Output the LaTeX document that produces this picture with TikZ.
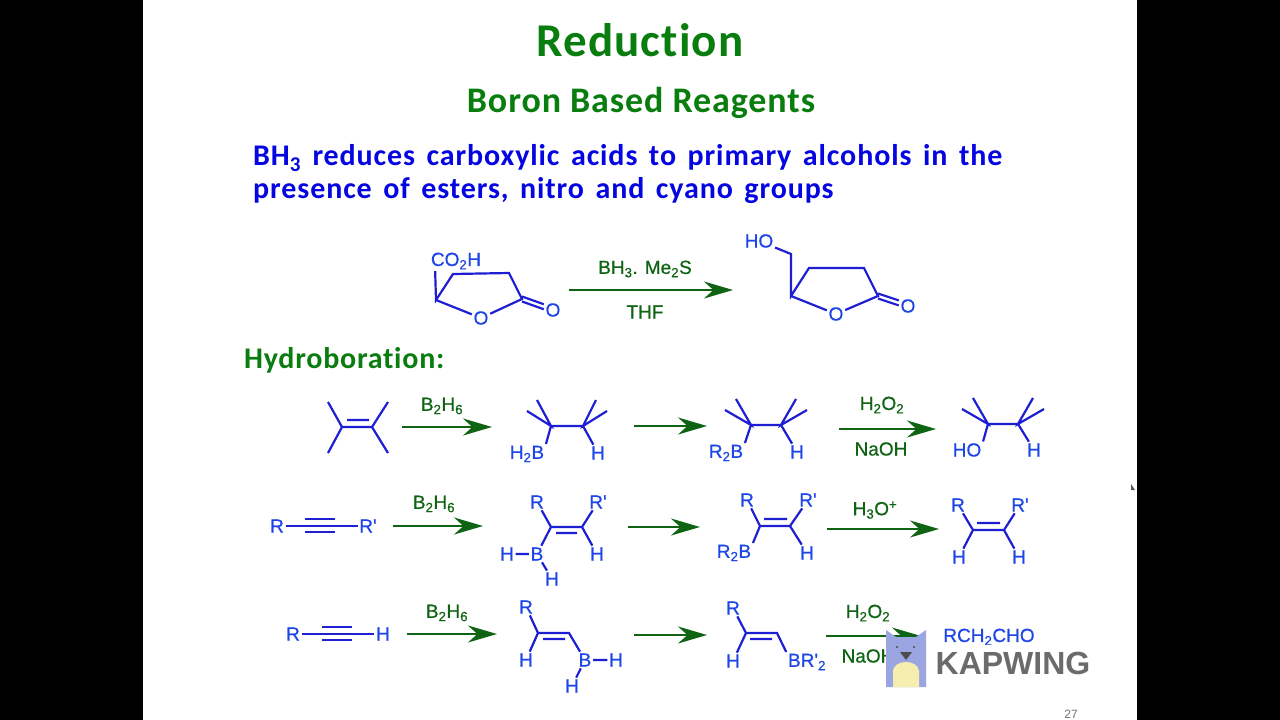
\documentclass[tikz,border=0pt]{standalone}
\usepackage{fontspec}
\usetikzlibrary{arrows.meta}
\setmainfont{Liberation Sans}
\newfontfamily\slidefont{Carlito}[Ligatures=NoCommon,LetterSpace=2.5]
\newfontfamily\linefont{Carlito}[Ligatures=NoCommon,LetterSpace=3,WordSpace=1.5]
\newfontfamily\chemfont{Liberation Sans}[FakeBold=0.6]
\definecolor{titlegreen}{RGB}{10,125,15}
\definecolor{headblue}{RGB}{5,5,225}
\definecolor{bondblue}{RGB}{30,30,210}
\definecolor{atomblue}{RGB}{30,70,230}
\definecolor{reagentgreen}{RGB}{15,100,20}
\definecolor{catblue}{RGB}{155,165,225}
\definecolor{catcream}{RGB}{245,238,175}
\tikzset{
	slidetext/.style={font=\slidefont\bfseries\fontsize{#1}{#1}\selectfont,inner sep=0pt},
	linetext/.style={font=\linefont\bfseries\fontsize{30}{30}\selectfont,inner sep=0pt,anchor=west},
	bond/.style={draw=bondblue,line width=2.2pt},
	atom/.style={text=atomblue,font=\chemfont\fontsize{19}{19}\selectfont,inner sep=1.6pt},
	reagent/.style={text=reagentgreen,font=\chemfont\fontsize{19}{19}\selectfont,inner sep=0pt},
	reaction/.style={draw=reagentgreen,line width=1.8pt,-{Stealth[length=29pt,width=17pt]}}
}
\begin{document}
\begin{tikzpicture}[x=1pt,y=-1pt]
	\useasboundingbox (0,0) rectangle (1280,720);
	\fill[black] (0,0) rectangle (1280,720);
	\fill[white] (143,0) rectangle (1137,720);
	% headings
	\node[slidetext=47,text=titlegreen] (title) at (640,40) {Reduction};
	\node[slidetext=36,text=titlegreen] (subtitle) at (641,103) {Boron Based Reagents};
	\node[linetext,text=headblue] (line1) at (253,158) {BH\textsubscript{3} reduces carboxylic acids to primary alcohols in the};
	\node[linetext,text=headblue] (line2) at (253,191) {presence of esters, nitro and cyano groups};
	\node[slidetext=30,text=titlegreen,anchor=west] (hydro) at (244,360) {Hydroboration:};
	% lactone acid
	\coordinate (la) at (436,300);
	\coordinate (lb) at (453,274);
	\coordinate (lc) at (509,273);
	\coordinate (ld) at (522,299);
	\node[atom] (lo) at (481,318) {O};
	\node[atom] (lko) at (553,310) {O};
	\node[atom] (lacid) at (456,261) {CO\textsubscript{2}H};
	\draw[bond] (lacid.south west) ++(6,0) -- (la) -- (lb) -- (lc) -- (ld) -- (lo) -- (la);
	\draw[bond,transform canvas={yshift=2.5pt}] (ld) -- (lko);
	\draw[bond,transform canvas={yshift=-2.5pt}] (ld) -- (lko);
	\draw[reaction] (569,290) -- (733,290);
	\node[reagent] (ra) at (645,269) {BH\textsubscript{3}. Me\textsubscript{2}S};
	\node[reagent] (rb) at (645,312) {THF};
	% lactone alcohol
	\coordinate (ma) at (791,296);
	\coordinate (mb) at (809,268);
	\coordinate (mc) at (864,268);
	\coordinate (md) at (878,296);
	\coordinate (me) at (791,254);
	\node[atom] (mo) at (836,314) {O};
	\node[atom] (mko) at (908,306) {O};
	\node[atom] (mhy) at (759,241) {HO};
	\draw[bond] (mhy) -- (me) -- (ma) -- (mb) -- (mc) -- (md) -- (mo) -- (ma);
	\draw[bond,transform canvas={yshift=2.5pt}] (md) -- (mko);
	\draw[bond,transform canvas={yshift=-2.5pt}] (md) -- (mko);
	% first row
	\coordinate (aa) at (342,427);
	\coordinate (ab) at (372,427);
	\coordinate (aai) at (347,420);
	\coordinate (abi) at (369,420);
	\coordinate (a1) at (328,402);
	\coordinate (a2) at (328,453);
	\coordinate (a3) at (388,402);
	\coordinate (a4) at (388,453);
	\draw[bond] (a1) -- (aa) -- (a2) (aa) -- (ab) (a3) -- (ab) -- (a4) (aai) -- (abi);
	\draw[reaction] (402,427) -- (492,427);
	\node[reagent] (rc) at (442,406) {B\textsubscript{2}H\textsubscript{6}};
	\coordinate (ba) at (551,426);
	\coordinate (bb) at (583,426);
	\coordinate (b1) at (537,400);
	\coordinate (b2) at (527,411);
	\coordinate (b3) at (596,400);
	\coordinate (b4) at (607,411);
	\node[atom] (bbh) at (527,454) {H\textsubscript{2}B};
	\node[atom] (bh) at (598,453) {H};
	\draw[bond] (b1) -- (ba) -- (b2) (ba) -- (bbh.north east) (ba) -- (bb) (b3) -- (bb) -- (b4) (bb) -- (bh);
	\draw[reaction] (634,426) -- (707,426);
	\coordinate (ca) at (751,425);
	\coordinate (cb) at (781,425);
	\coordinate (c1) at (736,399);
	\coordinate (c2) at (725,410);
	\coordinate (c3) at (796,399);
	\coordinate (c4) at (807,410);
	\node[atom] (cbr) at (726,453) {R\textsubscript{2}B};
	\node[atom] (ch) at (797,452) {H};
	\draw[bond] (c1) -- (ca) -- (c2) (ca) -- (cbr.north east) (ca) -- (cb) (c3) -- (cb) -- (c4) (cb) -- (ch);
	\draw[reaction] (839,429) -- (936,429);
	\node[reagent] (rd) at (882,405) {H\textsubscript{2}O\textsubscript{2}};
	\node[reagent] (re) at (881,449) {NaOH};
	\coordinate (da) at (988,424);
	\coordinate (db) at (1018,424);
	\coordinate (d1) at (973,398);
	\coordinate (d2) at (962,409);
	\coordinate (d3) at (1033,398);
	\coordinate (d4) at (1044,409);
	\node[atom] (dho) at (967,450) {HO};
	\node[atom] (dh) at (1034,450) {H};
	\draw[bond] (d1) -- (da) -- (d2) (da) -- (dho.north east) (da) -- (db) (d3) -- (db) -- (d4) (db) -- (dh);
	% second row
	\node[atom] (er) at (277,526) {R};
	\node[atom] (erp) at (368,526) {R'};
	\coordinate (e1) at (305,519);
	\coordinate (e2) at (335,519);
	\coordinate (e3) at (305,532);
	\coordinate (e4) at (335,532);
	\draw[bond] (er) -- (erp) (e1) -- (e2) (e3) -- (e4);
	\draw[reaction] (393,526) -- (483,526);
	\node[reagent] (rf) at (434,504) {B\textsubscript{2}H\textsubscript{6}};
	\coordinate (fa) at (551,527);
	\coordinate (fb) at (582,527);
	\coordinate (fai) at (556,533);
	\coordinate (fbi) at (577,533);
	\node[atom] (fr) at (537,502) {R};
	\node[atom] (frp) at (598,502) {R'};
	\node[atom] (fbo) at (537,554) {B};
	\node[atom] (fh) at (597,554) {H};
	\node[atom] (fhl) at (507,554) {H};
	\node[atom] (fhb) at (552,579) {H};
	\draw[bond] (fr) -- (fa) -- (fbo) (fa) -- (fb) (frp) -- (fb) -- (fh) (fai) -- (fbi) (fhl) -- (fbo) -- (fhb);
	\draw[reaction] (628,527) -- (700,527);
	\coordinate (ga) at (760,526);
	\coordinate (gb) at (790,526);
	\coordinate (gai) at (764,519);
	\coordinate (gbi) at (787,519);
	\node[atom] (gr) at (747,500) {R};
	\node[atom] (grp) at (808,500) {R'};
	\node[atom] (gbr) at (734,553) {R\textsubscript{2}B};
	\node[atom] (gh) at (807,553) {H};
	\draw[bond] (gr) -- (ga) -- (gbr.north east) (ga) -- (gb) (grp) -- (gb) -- (gh) (gai) -- (gbi);
	\draw[reaction] (827,529) -- (939,529);
	\node[reagent] (rg) at (875,510) {H\textsubscript{3}O\textsuperscript{+}};
	\coordinate (ha) at (973,530);
	\coordinate (hb) at (1004,530);
	\coordinate (hai) at (977,523);
	\coordinate (hbi) at (1000,523);
	\node[atom] (hr) at (958,505) {R};
	\node[atom] (hrp) at (1020,505) {R'};
	\node[atom] (hh) at (959,557) {H};
	\node[atom] (hk) at (1019,557) {H};
	\draw[bond] (hr) -- (ha) -- (hh) (ha) -- (hb) (hrp) -- (hb) -- (hk) (hai) -- (hbi);
	% third row
	\node[atom] (ir) at (293,634) {R};
	\node[atom] (ih) at (383,634) {H};
	\coordinate (i1) at (322,627);
	\coordinate (i2) at (352,627);
	\coordinate (i3) at (322,640);
	\coordinate (i4) at (352,640);
	\draw[bond] (ir) -- (ih) (i1) -- (i2) (i3) -- (i4);
	\draw[reaction] (407,634) -- (497,634);
	\node[reagent] (rh) at (447,613) {B\textsubscript{2}H\textsubscript{6}};
	\coordinate (ja) at (538,633);
	\coordinate (jb) at (569,633);
	\coordinate (jai) at (543,639);
	\coordinate (jbi) at (565,639);
	\node[atom] (jr) at (526,607) {R};
	\node[atom] (jh) at (526,660) {H};
	\node[atom] (jbo) at (585,660) {B};
	\node[atom] (jhr) at (616,660) {H};
	\node[atom] (jhb) at (572,686) {H};
	\draw[bond] (jr) -- (ja) -- (jh) (ja) -- (jb) -- (jbo) (jai) -- (jbi) (jbo) -- (jhr) (jbo) -- (jhb);
	\draw[reaction] (634,635) -- (707,635);
	\coordinate (ka) at (746,633);
	\coordinate (kb) at (777,633);
	\coordinate (kai) at (750,639);
	\coordinate (kbi) at (772,639);
	\node[atom] (kr) at (733,608) {R};
	\node[atom] (kh) at (733,661) {H};
	\node[atom] (kbr) at (807,662) {BR'\textsubscript{2}};
	\draw[bond] (kr) -- (ka) -- (kh) (ka) -- (kb) -- (kbr.north west) (kai) -- (kbi);
	\draw[reaction] (826,636) -- (921,636);
	\node[reagent] (ri) at (868,613) {H\textsubscript{2}O\textsubscript{2}};
	\node[reagent] (rj) at (868,656) {NaOH};
	\node[atom,inner sep=0pt] (kald) at (989,637) {RCH\textsubscript{2}CHO};
	% page number and cursor
	\node[text=black!55,font=\fontsize{12}{12}\selectfont,inner sep=0pt] (pagenum) at (1071,714) {27};
	\fill[black!65] (1131,484) -- (1135,490) -- (1131,490) -- cycle;
	% watermark
	\fill[white] (932,645) rectangle (1092,680);
	\fill[catblue] (886,630) -- (896,637) -- (916,637) -- (926,630) -- (926,687) -- (886,687) -- cycle;
	\fill[catcream] (893,687) -- (893,671) arc[start angle=180,end angle=0,x radius=13,y radius=-9] -- (919,687) -- cycle;
	\fill[black!70] (900,652) -- (912,652) -- (906,660) -- cycle;
	\fill[black!70] (897,647) circle[radius=1.2] (914,647) circle[radius=1.2];
	\node[text=black!58,font=\bfseries\fontsize{32}{32}\selectfont,inner sep=0pt] (kapwing) at (1013,663) {KAPWING};
\end{tikzpicture}
\end{document}
